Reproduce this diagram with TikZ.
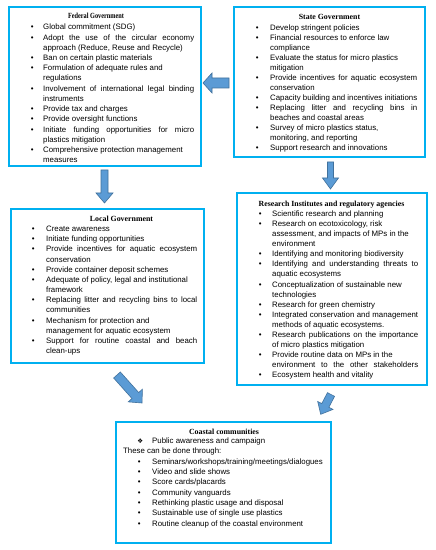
\documentclass[tikz,border=0pt]{standalone}
\usepackage{fontspec}
\usepackage{graphicx}
\usetikzlibrary{calc}
\newfontfamily\bodyfont{Liberation Sans}
\newfontfamily\headfont{Liberation Serif}
\newfontfamily\symfont{DejaVu Sans}
\definecolor{boxcyan}{RGB}{0,176,240}
\definecolor{arrowfill}{RGB}{91,155,213}
\definecolor{arrowedge}{RGB}{65,113,156}
\newlength\bulofs
\newcommand\bul{\llap{\hbox to 2\bulofs{\hss\textbullet\hss}}}
\newcommand\Bj[1]{\hbox to \hsize{\bul#1}}
\newcommand\Bn[1]{\hbox{\bul#1}}
\newcommand\Cj[1]{\hbox to \hsize{#1}}
\newcommand\Cn[1]{\hbox{#1}}
\newcommand\blockarrow[5]{%
  \coordinate (bah) at ($(#2)!#5bp!(#1)$);
  \draw[barrow] ($(#1)!#3bp!90:(#2)$) -- ($(bah)!#3bp!90:(#2)$) -- ($(bah)!#4bp!90:(#2)$) -- (#2)
     -- ($(bah)!#4bp!-90:(#2)$) -- ($(bah)!#3bp!-90:(#2)$) -- ($(#1)!#3bp!-90:(#2)$) -- cycle;}
\tikzset{
  panel/.style={draw=boxcyan, line width=1.8bp, inner sep=0pt, outer sep=0pt, anchor=north west},
  barrow/.style={fill=arrowfill, draw=arrowedge, line width=0.6bp, line join=miter},
  itemtext/.style={anchor=base west, inner sep=0pt, font=\bodyfont\fontsize{7.85bp}{10.2bp}\selectfont},
  headtext/.style={anchor=base, inner sep=0pt, font=\headfont\bfseries\fontsize{7.85bp}{10bp}\selectfont},
}
\begin{document}
\begin{tikzpicture}[x=1bp, y=-1bp]
\useasboundingbox (0,0) rectangle (436,550);
\fill[white] (0,0) rectangle (436,550);

% panels
\node[panel, minimum width=192bp, minimum height=159bp] (fed) at (9,7) {};
\node[panel, minimum width=191bp, minimum height=150bp] (state) at (234,7) {};
\node[panel, minimum width=193bp, minimum height=154bp] (local) at (11,209) {};
\node[panel, minimum width=190bp, minimum height=192bp] (research) at (237,193) {};
\node[panel, minimum width=215bp, minimum height=121bp] (coastal) at (116,422) {};

% titles
\node[headtext] (fedtitle) at (96,18.8) {\scalebox{0.8}[1]{Federal Government}};
\node[headtext] (sttitle) at (329.5,19.8) {State Government};
\node[headtext] (lotitle) at (121.5,221.8) {Local Government};
\node[headtext] (retitle) at (331.5,206.8) {Research Institutes and regulatory agencies};
\node[headtext] (cotitle) at (224,434.8) {Coastal communities};

% federal items
\node[itemtext] (fedtxt) at (43,29.8) {\parbox[t]{151bp}{\setlength\bulofs{11bp}\setlength\baselineskip{10.23bp}%
\Bn{Global commitment (SDG)}
\Bj{Adopt the use of the circular economy}
\Cn{approach (Reduce, Reuse and Recycle)}
\Bn{Ban on certain plastic materials}
\Bn{Formulation of adequate rules and}
\Cn{regulations}
\Bj{Involvement of international legal binding}
\Cn{instruments}
\Bn{Provide tax and charges}
\Bn{Provide oversight functions}
\Bj{Initiate funding opportunities for micro}
\Cn{plastics mitigation}
\Bn{Comprehensive protection management}
\Cn{measures}}};

% state items
\node[itemtext] (sttxt) at (270,30.6) {\parbox[t]{147bp}{\setlength\bulofs{13bp}\setlength\baselineskip{10bp}%
\Bn{Develop stringent policies}
\Bn{Financial resources to enforce law}
\Cn{compliance}
\Bn{Evaluate the status for micro plastics}
\Cn{mitigation}
\Bj{Provide incentives for aquatic ecosystem}
\Cn{conservation}
\Bn{Capacity building and incentives initiations}
\Bj{Replacing litter and recycling bins in}
\Cn{beaches and coastal areas}
\Bn{Survey of micro plastics status,}
\Cn{monitoring, and reporting}
\Bn{Support research and innovations}}};

% local items
\node[itemtext] (lotxt) at (46,231.6) {\parbox[t]{151bp}{\setlength\bulofs{13bp}\setlength\baselineskip{10.17bp}%
\Bn{Create awareness}
\Bn{Initiate funding opportunities}
\Bj{Provide incentives for aquatic ecosystem}
\Cn{conservation}
\Bn{Provide container deposit schemes}
\Bn{Adequate of policy, legal and institutional}
\Cn{framework}
\Bj{Replacing litter and recycling bins to local}
\Cn{communities}
\Bn{Mechanism for protection and}
\Cn{management for aquatic ecosystem}
\Bj{Support for routine coastal and beach}
\Cn{clean-ups}}};

% research items
\node[itemtext] (retxt) at (272,216.6) {\parbox[t]{146bp}{\setlength\bulofs{12bp}\setlength\baselineskip{10.06bp}%
\Bn{Scientific research and planning}
\Bn{Research on ecotoxicology, risk}
\Cn{assessment, and impacts of MPs in the}
\Cn{environment}
\Bn{Identifying and monitoring biodiversity}
\Bj{Identifying and understanding threats to}
\Cn{aquatic ecosystems}
\Bn{Conceptualization of sustainable new}
\Cn{technologies}
\Bn{Research for green chemistry}
\Bj{Integrated conservation and management}
\Cn{methods of aquatic ecosystems.}
\Bj{Research publications on the importance}
\Cn{of micro plastics mitigation}
\Bn{Provide routine data on MPs in the}
\Cj{environment to the other stakeholders}
\Bn{Ecosystem health and vitality}}};

% coastal items
\node[itemtext] (cotxt) at (152,443.6) {\parbox[t]{175bp}{\setlength\bulofs{13bp}\setlength\baselineskip{10.33bp}%
\hbox{\llap{\hbox to 24bp{\hss{\symfont\fontsize{6.5bp}{8bp}\selectfont ❖}\hss}}Public awareness and campaign}
\hbox{\hskip -29bp These can be done through:}
\Bn{Seminars/workshops/training/meetings/dialogues}
\Bn{Video and slide shows}
\Bn{Score cards/placards}
\Bn{Community vanguards}
\Bn{Rethinking plastic usage and disposal}
\Bn{Sustainable use of single use plastics}
\Bn{Routine cleanup of the coastal environment}}};

% block arrows
\coordinate (a1t) at (229,83);    \coordinate (a1h) at (203,83);
\coordinate (a2t) at (104.5,170); \coordinate (a2h) at (104.5,203);
\coordinate (a3t) at (330.5,162); \coordinate (a3h) at (330.5,189);
\coordinate (a4t) at (117,375);   \coordinate (a4h) at (142,403);
\coordinate (a5t) at (331,394.5); \coordinate (a5h) at (320.7,414.3);
\blockarrow{a1t}{a1h}{5}{10}{9}
\blockarrow{a2t}{a2h}{3.5}{8.5}{10}
\blockarrow{a3t}{a3h}{3}{8}{11}
\blockarrow{a4t}{a4h}{4.5}{9.5}{10}
\blockarrow{a5t}{a5h}{4}{8.6}{10}
\end{tikzpicture}
\end{document}
